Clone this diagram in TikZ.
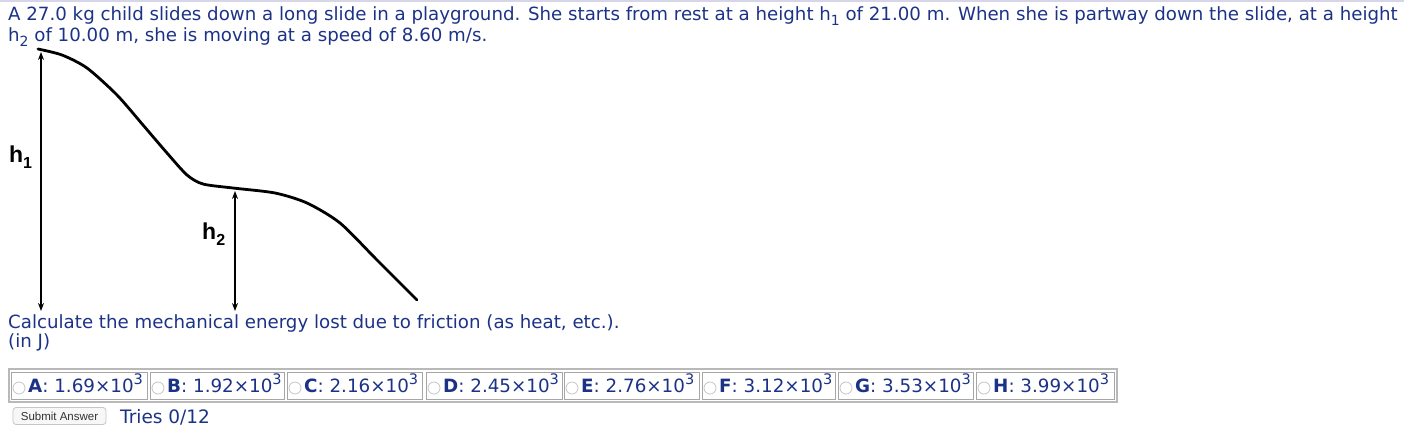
\documentclass[tikz,border=0pt]{standalone}
\usepackage{fontspec}
\setmainfont{DejaVu Sans}
\newfontfamily\labfont{Liberation Sans}
\usetikzlibrary{arrows.meta}
\definecolor{tblue}{RGB}{28,50,135}
\definecolor{toprule}{RGB}{214,214,232}
\newcommand\mysub[1]{\raisebox{-0.28em}{\fontsize{14}{14}\selectfont #1}}
\newcommand\mysup[1]{\raisebox{0.42em}{\fontsize{14.5}{14}\selectfont #1}}
\begin{document}
\begin{tikzpicture}[x=1pt,y=-1pt,
  txt/.style={anchor=base west, inner sep=0, text=tblue, font=\fontsize{18.2}{20}\selectfont},
  opt/.style={anchor=base west, inner sep=0, text=tblue, font=\fontsize{18.3}{19}\selectfont},
  hlab/.style={anchor=base west, inner sep=0, text=black, font=\labfont\bfseries\fontsize{23}{23}\selectfont},
  dim/.style={line width=1.4pt, {Stealth[length=8pt,width=6pt]}-{Stealth[length=8pt,width=6pt]}},
  slide/.style={line width=2.8pt, line join=round, line cap=round},
  cellbox/.style={draw=gray!70, line width=1pt, fill=white},
  radio/.style={draw=gray!45, line width=0.8pt, fill=white}
]
\useasboundingbox (0,0) rectangle (1404,432);
\fill[toprule] (0,0) rectangle (1404,2);

% question text
\node[txt] (l1) at (8,20) {A 27.0 kg child slides down a long slide in a playground. She starts from rest at a height h\mysub{1} of 21.00 m. When she is partway down the slide, at a height};
\node[txt] (l2) at (8,41) {h\mysub{2} of 10.00 m, she is moving at a speed of 8.60 m/s.};

% figure
\draw[slide] plot[smooth, tension=0.45] coordinates {(38,49) (62,55) (87,68) (117,95) (143,125) (167,153) (187,175) (203,184) (233,188) (275,193) (307,203) (340,223) (377,260) (417,300)};
\coordinate (h1top) at (41,52);
\coordinate (h1bot) at (41,311);
\coordinate (h2top) at (235,191);
\coordinate (h2bot) at (235,311);
\draw[dim] (h1top) -- (h1bot);
\draw[dim] (h2top) -- (h2bot);
\node[hlab] (h1) at (9,162) {h\raisebox{-0.3em}{\fontsize{16}{16}\selectfont 1}};
\node[hlab] (h2) at (202,239) {h\raisebox{-0.3em}{\fontsize{16}{16}\selectfont 2}};

% calculate text
\node[txt] (l3) at (8,328) {Calculate the mechanical energy lost due to friction (as heat, etc.).};
\node[txt] (l4) at (8,347) {(in J)};

% options table
\draw[draw=gray!55, line width=1.2pt, fill=white] (9,369) rectangle (1117,402);
\foreach \l/\r/\L/\v in {11/147/A/1.69, 150/284/B/1.92, 287/422/C/2.16, 426/562/D/2.45, 564/699/E/2.76, 702/835/F/3.12, 838/973/G/3.53, 976/1114/H/3.99}{
  \draw[cellbox] (\l,372) rectangle (\r,399);
  \draw[radio] (\l+8,388) circle (6);
  \node[opt] (opt\L) at (\l+17,392) {\textbf{\L}: \v×10\mysup{3}};
}

% submit
\node[draw=gray!45, line width=0.8pt, rounded corners=3pt, fill=gray!6, minimum width=93pt, minimum height=17pt, inner sep=0, text=black!80, font=\labfont\fontsize{11.5}{12}\selectfont] (submit) at (59.5,416) {Submit Answer};
\node[txt, font=\fontsize{18.5}{20}\selectfont] (tries) at (120,423) {Tries 0/12};
\end{tikzpicture}
\end{document}
